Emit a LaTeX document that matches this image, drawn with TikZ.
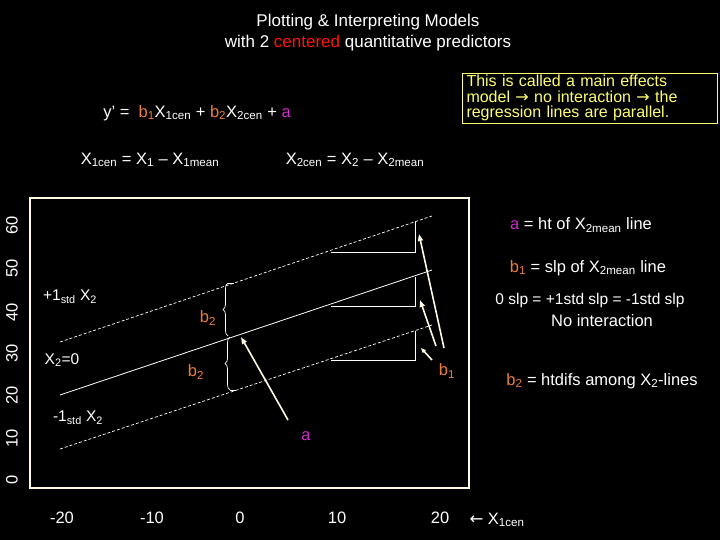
\documentclass[tikz,border=0pt]{standalone}
\usepackage{fontspec}
\setmainfont{Liberation Sans}
\newfontfamily\djv{DejaVu Sans}
\usetikzlibrary{decorations.pathreplacing,arrows.meta}
\definecolor{org}{RGB}{235,125,60}
\definecolor{mag}{RGB}{205,45,205}
\definecolor{yel}{RGB}{255,255,110}
\definecolor{frm}{RGB}{255,250,225}
\newcommand{\sbs}[1]{\textsubscript{#1}}
\newcommand{\rar}{{\djv →}}
\newcommand{\lar}{{\djv ←}}
\begin{document}
\begin{tikzpicture}[x=1pt,y=-1pt,
  txt/.style={text=white,inner sep=0pt,font=\fontsize{16.5}{17}\selectfont},
  sm/.style={text=white,inner sep=0pt,font=\fontsize{15.5}{16}\selectfont},
  arr/.style={draw=frm,line width=1.6pt,-{Triangle[length=7pt,width=5pt]}},
  tri/.style={draw=white,line width=0.7pt}]
\fill[black] (0,0) rectangle (720,540);
\useasboundingbox (0,0) rectangle (720,540);
\node[txt,align=center,font=\fontsize{17}{21}\selectfont] (title) at (368,33) {Plotting \& Interpreting Models\\with 2 \textcolor{red!85!orange}{centered} quantitative predictors};
\node[txt] (eq) at (197,113) {y’ =\ \ \textcolor{org}{b\sbs{1}}X\sbs{1cen} + \textcolor{org}{b\sbs{2}}X\sbs{2cen} + \textcolor{mag}{a}};
\node[txt] (d1) at (150,160) {X\sbs{1cen} = X\sbs{1} – X\sbs{1mean}};
\node[txt] (d2) at (355,160) {X\sbs{2cen} = X\sbs{2} – X\sbs{2mean}};
\node[draw=yel,line width=0.8pt,text=yel,align=left,inner xsep=4pt,inner ysep=2pt,font=\fontsize{16}{15.5}\selectfont,minimum width=255pt,text width=247pt] (box) at (590,98) {This is called a main effects\\model \rar\ no interaction \rar\ the\\regression lines are parallel.};
% frame
\draw[frm,line width=2pt] (30,198) rectangle (469,488);
% axis labels
\foreach \v/\y in {0/480,10/438,20/395,30/353,40/312,50/268,60/225}
  \node[txt,rotate=90] (y\v) at (12,\y) {\v};
\foreach \v/\x in {-20/62,-10/152,0/240,10/337,20/440}
  \node[txt] (x\v) at (\x,518) {\v};
\node[txt] (xl) at (497,520) {\lar\ X\sbs{1cen}};
% lines
\coordinate (t1) at (60,342); \coordinate (t2) at (432,216);
\coordinate (m1) at (60,395); \coordinate (m2) at (432,270);
\coordinate (b1) at (60,449); \coordinate (b2) at (432,325);
\draw[white,dash pattern=on 3pt off 2pt,line width=0.7pt] (t1) -- (t2);
\draw[white,line width=0.8pt] (m1) -- (m2);
\draw[white,dash pattern=on 3pt off 2pt,line width=0.7pt] (b1) -- (b2);
% triangles
\draw[tri] (331,252) -- (415,252) -- (415,222);
\draw[tri] (331,306) -- (415,306) -- (415,277);
\draw[tri] (331,360) -- (415,360) -- (415,331);
% braces
\draw[white,line width=0.7pt,decorate,decoration={brace,amplitude=5pt}] (228,336) -- (228,283);
\draw[white,line width=0.7pt,decorate,decoration={brace,amplitude=5pt}] (230,390) -- (230,337);
\draw[white,line width=0.7pt] (228,283) -- (234,283) (230,390) -- (236,390);
% labels on plot
\node[sm] (lp) at (70,297) {+1\sbs{std} X\sbs{2}};
\node[sm] (l0) at (62,360) {X\sbs{2}=0};
\node[sm] (lm) at (78,418) {-1\sbs{std} X\sbs{2}};
\node[txt,text=org] (bb1) at (208,318) {b\sbs{2}};
\node[txt,text=org] (bb2) at (196,372) {b\sbs{2}};
\node[txt,text=org] (lb1) at (447,371) {b\sbs{1}};
\node[txt,text=mag] (la) at (306,436) {a};
\coordinate (ah) at (241,337);
\draw[arr] (288,420) -- (ah);
\draw[arr] (444,348) -- (419,234);
\draw[arr] (436,346) -- (420,300);
\draw[arr,-{Triangle[length=5pt,width=4pt]}] (432,360) -- (421,348);
% right texts
\node[txt] (ra) at (581,225) {\textcolor{mag}{a} = ht of X\sbs{2mean} line};
\node[txt] (rb) at (588,268) {\textcolor{org}{b\sbs{1}} = slp of X\sbs{2mean} line};
\node[sm] (rs) at (590,300) {0 slp = +1std slp = -1std slp};
\node[txt] (rn) at (602,321) {No interaction};
\node[txt] (rc) at (602,381) {\textcolor{org}{b\sbs{2}} = htdifs among X\sbs{2}-lines};
\end{tikzpicture}
\end{document}
